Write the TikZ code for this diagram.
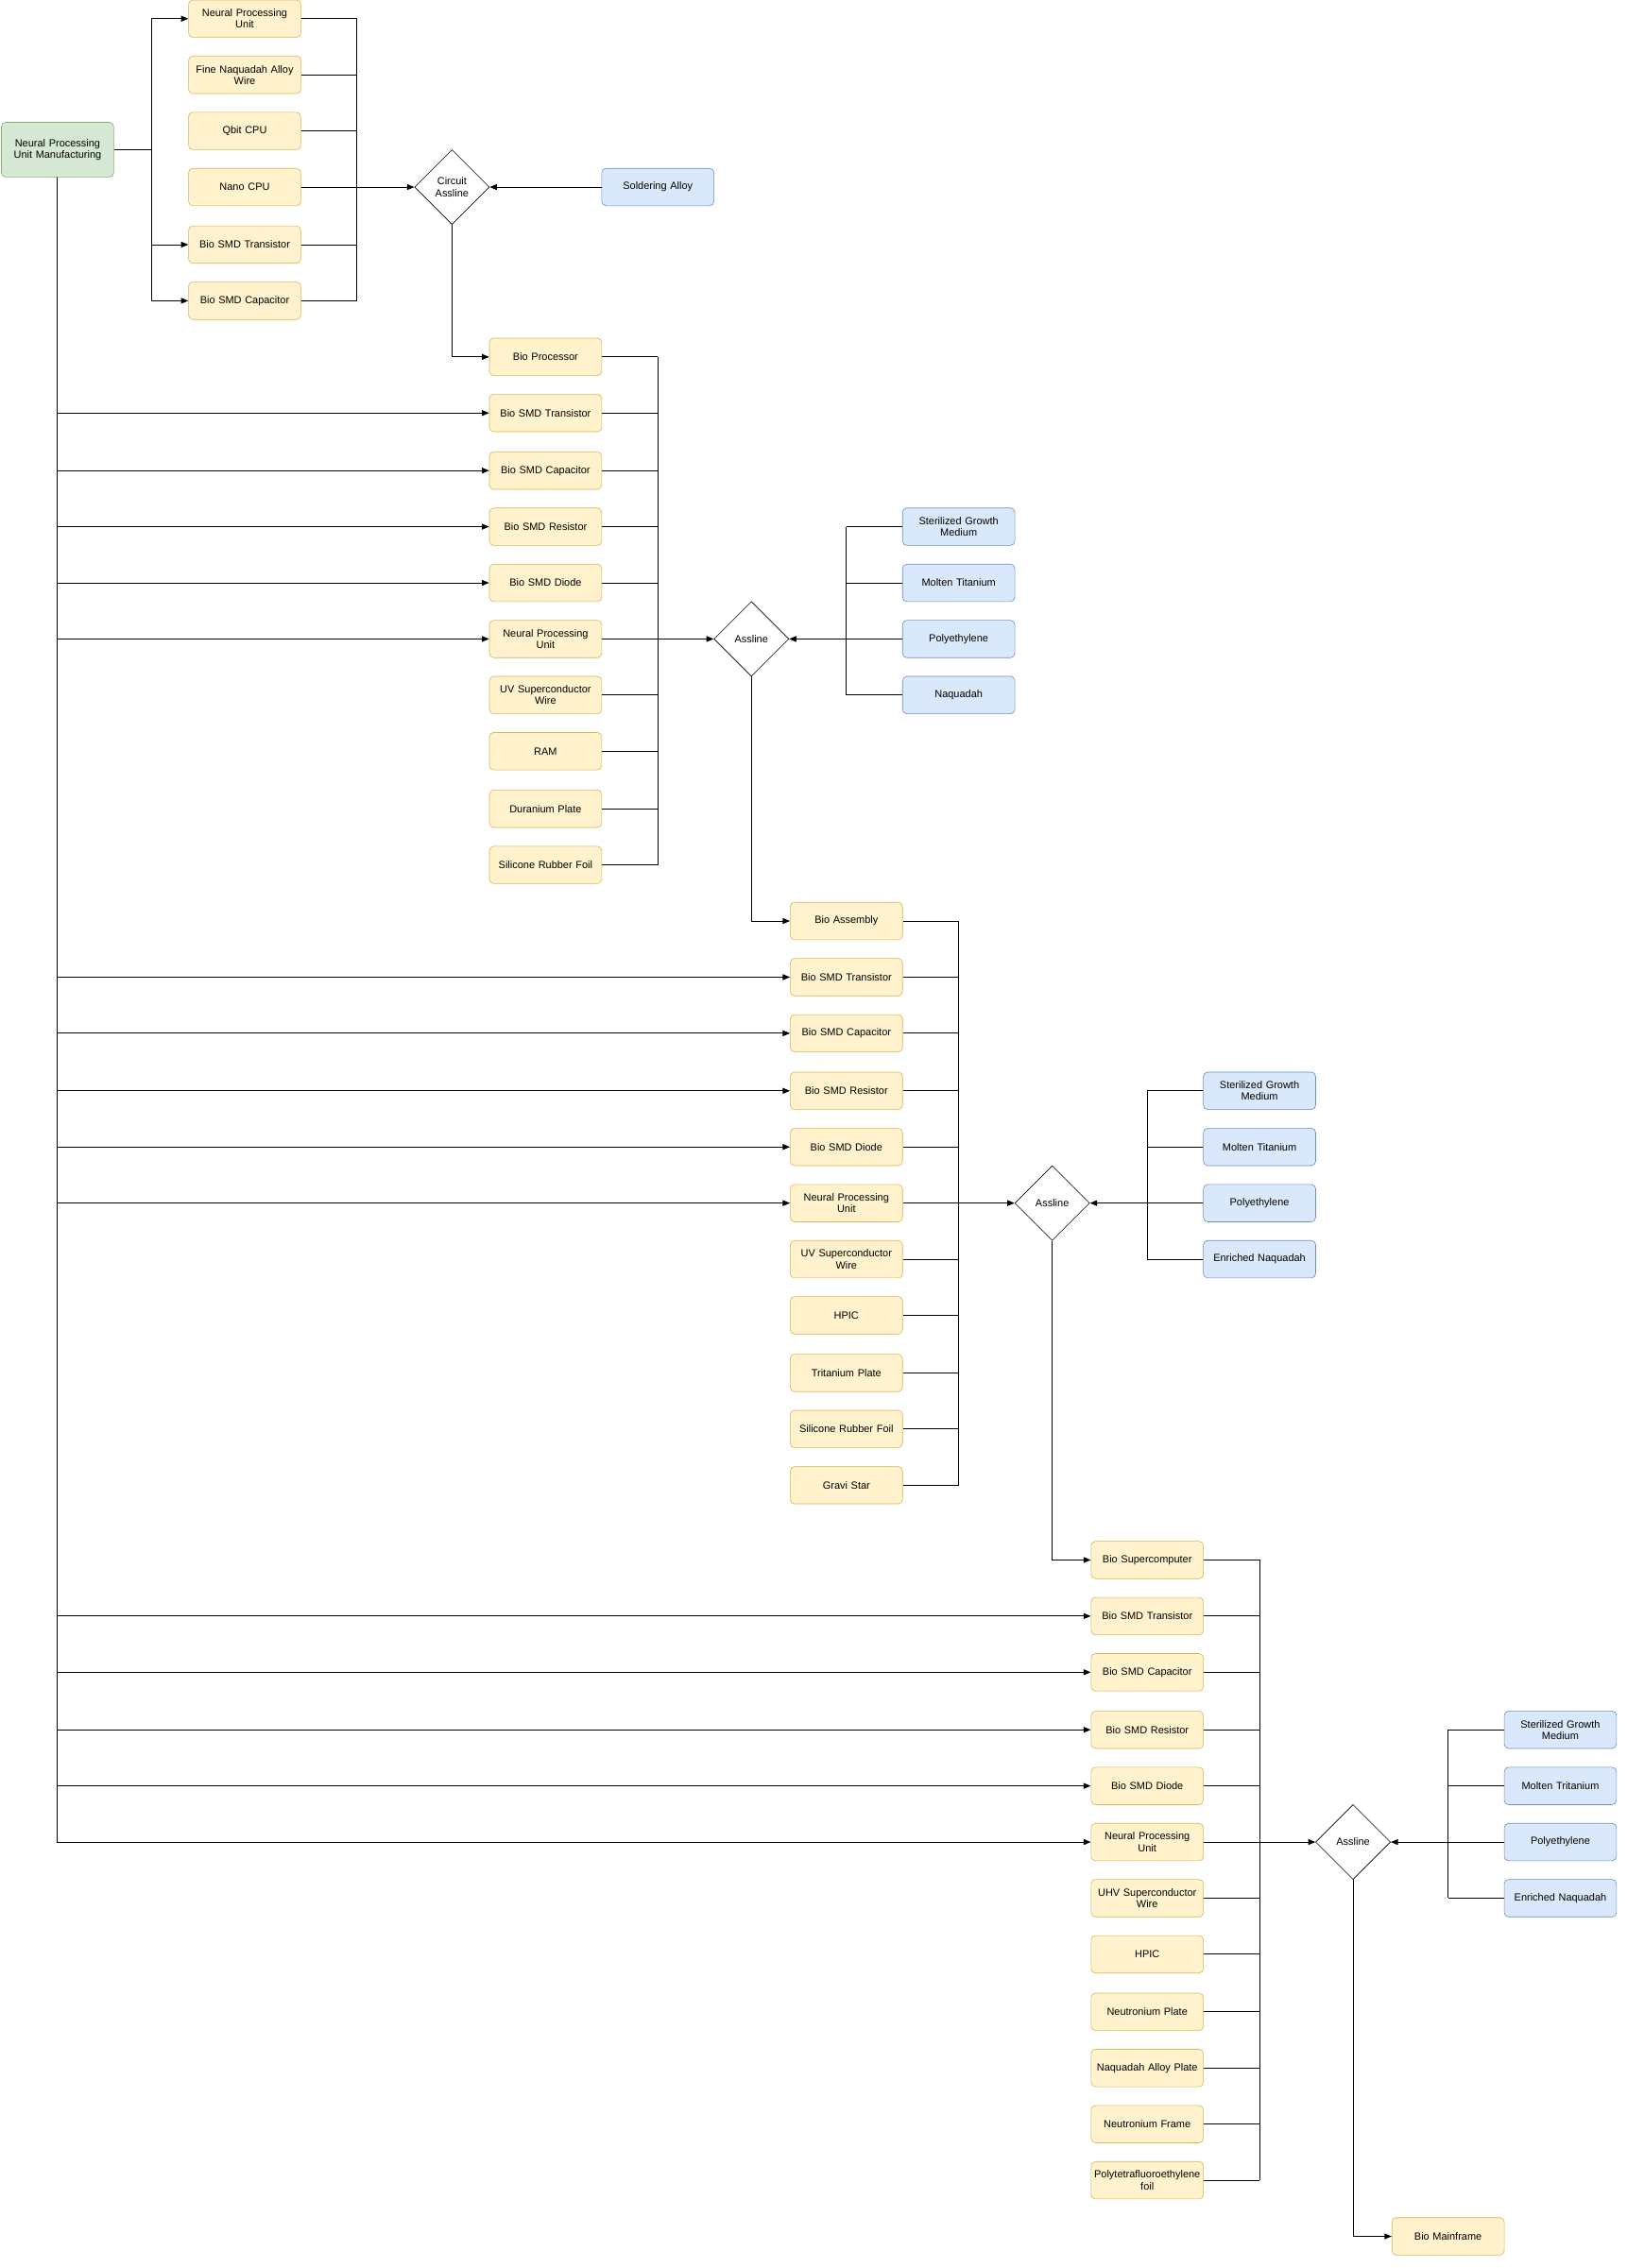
\documentclass[tikz,border=0pt]{standalone}
\usepackage{fontspec}
\setmainfont{Liberation Sans}
\usetikzlibrary{arrows.meta,shapes.geometric}
\definecolor{ylwfill}{HTML}{FFF2CC}\definecolor{ylwline}{HTML}{D6B656}
\definecolor{bluefill}{HTML}{DAE8FC}\definecolor{blueline}{HTML}{6C8EBF}
\definecolor{grnfill}{HTML}{D5E8D4}\definecolor{grnline}{HTML}{82B366}
\tikzset{
  part/.style={draw=ylwline,fill=ylwfill,rounded corners=3pt,minimum width=78pt,minimum height=26pt,
    inner sep=1pt,align=center,text width=76pt,font=\fontsize{7.2}{8}\selectfont},
  mat/.style={part,draw=blueline,fill=bluefill},
  start/.style={part,draw=grnline,fill=grnfill,minimum height=38pt},
  line/.style={draw,line width=0.6pt},
  arr/.style={line,-{Triangle[length=5pt,width=4pt]}},
  asl/.style={draw,diamond,aspect=1,minimum width=52pt,minimum height=52pt,inner sep=0pt,align=center,
    font=\fontsize{7.2}{8}\selectfont}
}
\begin{document}
\begin{tikzpicture}[x=1pt,y=-1pt]
  \useasboundingbox (0,0) rectangle (1130,1576);

  % start and first stage
  \node (nm) at (40,104) [start]{Neural Processing\\Unit Manufacturing};
  \node (a1) at (170,13) [part]{Neural Processing\\Unit};
  \node (a2) at (170,52) [part]{Fine Naquadah Alloy\\Wire};
  \node (a3) at (170,91) [part]{Qbit CPU};
  \node (a4) at (170,130) [part]{Nano CPU};
  \node (a5) at (170,170) [part]{Bio SMD Transistor};
  \node (a6) at (170,209) [part]{Bio SMD Capacitor};
  \node (ca) at (314,130) [asl]{Circuit\\Assline};
  \node (sa) at (457,130) [mat]{Soldering Alloy};
  \coordinate (fan) at (105,104);
  \coordinate (bus1) at (248,13);
  \coordinate (bus1b) at (248,209);

  \draw[line] (nm.east) -- (fan);
  \foreach \n in {a1,a5,a6}
    \draw[arr] (fan) |- (\n.west);
  \foreach \n in {a1,a2,a3,a4,a5,a6}
    \draw[line] (\n.east) -- (\n.east -| bus1);
  \draw[line] (bus1) -- (bus1b);
  \draw[arr] (a4.east) -- (ca.west);
  \draw[arr] (sa.west) -- (ca.east);

  % second stage
  \node (b1) at (379,248) [part]{Bio Processor};
  \node (b2) at (379,287) [part]{Bio SMD Transistor};
  \node (b3) at (379,327) [part]{Bio SMD Capacitor};
  \node (b4) at (379,366) [part]{Bio SMD Resistor};
  \node (b5) at (379,405) [part]{Bio SMD Diode};
  \node (b6) at (379,444) [part]{Neural Processing\\Unit};
  \node (b7) at (379,483) [part]{UV Superconductor\\Wire};
  \node (b8) at (379,522) [part]{RAM};
  \node (b9) at (379,562) [part]{Duranium Plate};
  \node (b10) at (379,601) [part]{Silicone Rubber Foil};
  \node (al1) at (522,444) [asl]{Assline};
  \node (m1) at (666,366) [mat]{Sterilized Growth\\Medium};
  \node (m2) at (666,405) [mat]{Molten Titanium};
  \node (m3) at (666,444) [mat]{Polyethylene};
  \node (m4) at (666,483) [mat]{Naquadah};
  \coordinate (bus2) at (457,248);
  \coordinate (bus2b) at (457,601);
  \coordinate (mb1) at (588,366);
  \coordinate (mb1b) at (588,483);

  \draw[arr] (ca.south) |- (b1.west);
  \foreach \n in {b2,b3,b4,b5,b6}
    \draw[arr] (nm.south) |- (\n.west);
  \foreach \n in {b1,b2,b3,b4,b5,b6,b7,b8,b9,b10}
    \draw[line] (\n.east) -- (\n.east -| bus2);
  \draw[line] (bus2) -- (bus2b);
  \draw[arr] (b6.east) -- (al1.west);
  \foreach \n in {m1,m2,m3,m4}
    \draw[line] (\n.west) -- (\n.west -| mb1);
  \draw[line] (mb1) -- (mb1b);
  \draw[arr] (m3.west) -- (al1.east);

  % third stage
  \node (c1) at (588,640) [part]{Bio Assembly};
  \node (c2) at (588,679) [part]{Bio SMD Transistor};
  \node (c3) at (588,718) [part]{Bio SMD Capacitor};
  \node (c4) at (588,758) [part]{Bio SMD Resistor};
  \node (c5) at (588,797) [part]{Bio SMD Diode};
  \node (c6) at (588,836) [part]{Neural Processing\\Unit};
  \node (c7) at (588,875) [part]{UV Superconductor\\Wire};
  \node (c8) at (588,914) [part]{HPIC};
  \node (c9) at (588,954) [part]{Tritanium Plate};
  \node (c10) at (588,993) [part]{Silicone Rubber Foil};
  \node (c11) at (588,1032) [part]{Gravi Star};
  \node (al2) at (731,836) [asl]{Assline};
  \node (n1) at (875,758) [mat]{Sterilized Growth\\Medium};
  \node (n2) at (875,797) [mat]{Molten Titanium};
  \node (n3) at (875,836) [mat]{Polyethylene};
  \node (n4) at (875,875) [mat]{Enriched Naquadah};
  \coordinate (bus3) at (666,640);
  \coordinate (bus3b) at (666,1032);
  \coordinate (mb2) at (797,758);
  \coordinate (mb2b) at (797,875);

  \draw[arr] (al1.south) |- (c1.west);
  \foreach \n in {c2,c3,c4,c5,c6}
    \draw[arr] (nm.south) |- (\n.west);
  \foreach \n in {c1,c2,c3,c4,c5,c6,c7,c8,c9,c10,c11}
    \draw[line] (\n.east) -- (\n.east -| bus3);
  \draw[line] (bus3) -- (bus3b);
  \draw[arr] (c6.east) -- (al2.west);
  \foreach \n in {n1,n2,n3,n4}
    \draw[line] (\n.west) -- (\n.west -| mb2);
  \draw[line] (mb2) -- (mb2b);
  \draw[arr] (n3.west) -- (al2.east);

  % fourth stage
  \node (d1) at (797,1084) [part]{Bio Supercomputer};
  \node (d2) at (797,1123) [part]{Bio SMD Transistor};
  \node (d3) at (797,1162) [part]{Bio SMD Capacitor};
  \node (d4) at (797,1202) [part]{Bio SMD Resistor};
  \node (d5) at (797,1241) [part]{Bio SMD Diode};
  \node (d6) at (797,1280) [part]{Neural Processing\\Unit};
  \node (d7) at (797,1319) [part]{UHV Superconductor\\Wire};
  \node (d8) at (797,1358) [part]{HPIC};
  \node (d9) at (797,1398) [part]{Neutronium Plate};
  \node (d10) at (797,1437) [part]{Naquadah Alloy Plate};
  \node (d11) at (797,1476) [part]{Neutronium Frame};
  \node (d12) at (797,1515) [part]{Polytetrafluoroethylene\\foil};
  \node (al3) at (940,1280) [asl]{Assline};
  \node (o1) at (1084,1202) [mat]{Sterilized Growth\\Medium};
  \node (o2) at (1084,1241) [mat]{Molten Tritanium};
  \node (o3) at (1084,1280) [mat]{Polyethylene};
  \node (o4) at (1084,1319) [mat]{Enriched Naquadah};
  \node (bm) at (1006,1554) [part]{Bio Mainframe};
  \coordinate (bus4) at (875,1084);
  \coordinate (bus4b) at (875,1515);
  \coordinate (mb3) at (1006,1202);
  \coordinate (mb3b) at (1006,1319);

  \draw[arr] (al2.south) |- (d1.west);
  \foreach \n in {d2,d3,d4,d5,d6}
    \draw[arr] (nm.south) |- (\n.west);
  \foreach \n in {d1,d2,d3,d4,d5,d6,d7,d8,d9,d10,d11,d12}
    \draw[line] (\n.east) -- (\n.east -| bus4);
  \draw[line] (bus4) -- (bus4b);
  \draw[arr] (d6.east) -- (al3.west);
  \foreach \n in {o1,o2,o3,o4}
    \draw[line] (\n.west) -- (\n.west -| mb3);
  \draw[line] (mb3) -- (mb3b);
  \draw[arr] (o3.west) -- (al3.east);
  \draw[arr] (al3.south) |- (bm.west);

\end{tikzpicture}
\end{document}
